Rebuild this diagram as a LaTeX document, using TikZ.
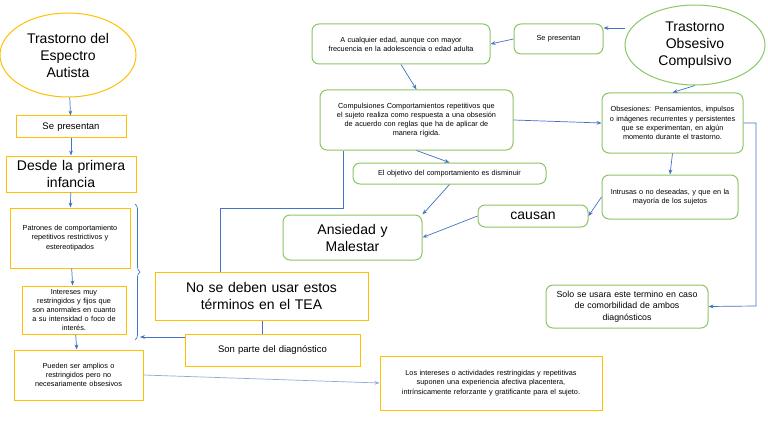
\documentclass[tikz,border=0pt]{standalone}
\usepackage{fontspec}
\setmainfont{Liberation Sans}
\usetikzlibrary{shapes.geometric,arrows.meta,decorations.pathreplacing}
\definecolor{yel}{HTML}{FFC000}
\definecolor{grn}{HTML}{8CC665}
\definecolor{blu}{HTML}{4472C4}
\lefthyphenmin=64
\tikzset{
 ybox/.style={draw=yel,line width=1pt,align=center,inner sep=2pt},
 gbox/.style={draw=grn,line width=1pt,rounded corners=7pt,align=center,inner sep=2pt},
 con/.style={draw=blu,line width=0.7pt,-{Stealth[length=5pt]}},
 lin/.style={draw=blu,line width=0.9pt},
 tiny/.style={font=\fontsize{7.3}{9.2}\selectfont},
 mid/.style={font=\fontsize{9.5}{12}\selectfont},
 big/.style={font=\fontsize{14}{17}\selectfont}
}
\newcommand{\bx}[6]{\node[#1,minimum width=#4-#2,minimum height=#5-#3,text width=#4-#2-8] (#6) at ({(#2+#4)/2},{(#3+#5)/2})}
\begin{document}
\begin{tikzpicture}[x=1pt,y=-1pt]
\useasboundingbox[fill=white] (0,0) rectangle (768,433);
\node[ellipse,draw=yel,line width=1pt,minimum width=136,minimum height=84,align=center,big] (tea) at (68,55) {Trastorno del\\Espectro\\Autista};
\bx{ybox,mid}{16}{116}{126}{138}{sp1} {Se presentan};
\bx{ybox,big}{6}{156}{136}{192}{des} {Desde la primera\\infancia};
\bx{ybox,tiny}{10}{208}{130}{268}{pat} {Patrones de comportamiento\\repetitivos restrictivos y\\estereotipados};
\bx{ybox,tiny}{22}{286}{126}{334}{int} {Intereses muy\\restringidos y fijos que\\son anormales en cuanto\\a su intensidad o foco de\\interés.};
\bx{ybox,tiny}{14}{350}{143}{400}{pue} {Pueden ser amplios o\\restringidos pero no\\necesariamente obsesivos};
\bx{ybox,big}{155}{272}{368}{320}{nose} {No se deben usar estos\\términos en el TEA};
\bx{ybox,mid}{185}{334}{360}{366}{son} {Son parte del diagnóstico};
\bx{ybox,tiny}{380}{356}{602}{410}{los} {Los intereses o actividades restringidas y repetitivas\\suponen una experiencia afectiva placentera,\\intrínsicamente reforzante y gratificante para el sujeto.};
\node[ellipse,draw=grn,line width=1pt,minimum width=140,minimum height=80,align=center,big] (toc) at (695,45) {Trastorno\\Obsesivo\\Compulsivo};
\bx{gbox,tiny}{514}{24}{603}{54}{sp2} {Se presentan};
\bx{gbox,tiny}{312}{24}{490}{64}{acu} {A cualquier edad, aunque con mayor\\frecuencia en la adolescencia o edad adulta};
\bx{gbox,tiny}{320}{90}{513}{150}{com} {Compulsiones Comportamientos repetitivos que\\el sujeto realiza como respuesta a una obsesión\\de acuerdo con reglas que ha de aplicar de\\manera rígida.};
\bx{gbox,tiny}{602}{93}{743}{153}{obs} {Obsesiones: Pensamientos, impulsos\\o imágenes recurrentes y persistentes\\que se experimentan, en algún\\momento durante el trastorno.};
\bx{gbox,tiny}{353}{163}{546}{184}{obj} {El objetivo del comportamiento es disminuir};
\bx{gbox,big}{283}{215}{422}{260}{ans} {Ansiedad y\\Malestar};
\bx{gbox,big}{478}{205}{588}{227}{cau} {causan};
\bx{gbox,font=\fontsize{8.8}{11.5}\selectfont}{546}{285}{708}{328}{solo} {Solo se usara este termino en caso\\de comorbilidad de ambos\\diagnósticos};
\bx{gbox,tiny}{602}{175}{738}{219}{intr} {Intrusas o no deseadas, y que en la\\mayoría de los sujetos};
% left connectors
\draw[con] (tea) -- (sp1);
\draw[con] (sp1) -- (des);
\draw[con] (des) -- (pat);
\draw[con] (pat) -- (int);
\draw[con] (int) -- (pue);
\draw[blu,line width=0.7pt,decorate,decoration={brace,amplitude=5pt,mirror}] (135,340) -- (135,204);
\coordinate (bm) at (140,337);
\draw[con] (son.west |- bm) -- (bm);
\coordinate (c2) at (262,0);
\draw[lin] (nose.south -| c2) -- (son.north -| c2);
\draw[con,draw=blu!60] (pue.east) -- (los.west);
\coordinate (c1) at (343,208);
\coordinate (c3) at (220,0);
\draw[lin] (com.south -| c1) -- (c1) -- (220,208) -- (nose.north -| c3);
% right connectors
\coordinate (c4) at (0,28);
\draw[con] (toc.west |- c4) -- (sp2.east |- c4);
\draw[con] (sp2.west) -- (acu.east);
\draw[con] (acu.south) -- (com.north);
\draw[con] (com.east) -- (obs.west);
\draw[con] (toc.south) -- (obs.north);
\draw[con] (com.south) -- (obj.north);
\draw[con] (obj.south) -- (ans.north east);
\draw[con] (cau.west) -- (ans.east);
\draw[con] (obs.south) -- (intr.north);
\draw[con] (intr.west) -- (cau.east);
\draw[con] (obs.east) -- (756,123) -- (756,306) -- (solo.east);
\end{tikzpicture}
\end{document}
